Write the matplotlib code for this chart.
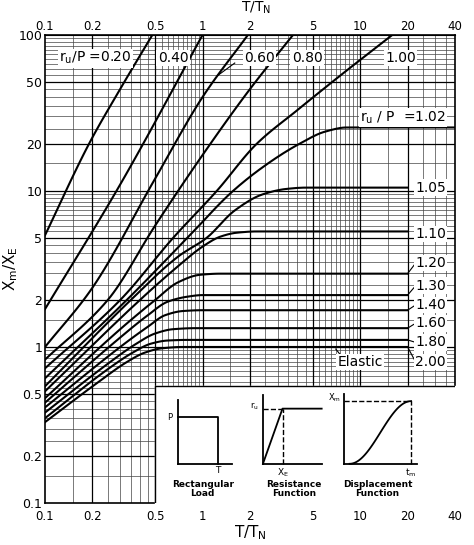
import numpy as np
import matplotlib
matplotlib.use("Agg")
import matplotlib.pyplot as plt
from matplotlib.ticker import FixedLocator, NullLocator

plt.rcParams['font.family'] = ['DejaVu Sans']

# ---- data (T/TN, Xm/XE) ----
r_labels = ["0.20", "0.40", "0.60", "0.80", "1.00", "1.02", "1.05", "1.10",
            "1.20", "1.30", "1.40", "1.60", "1.80", "2.00"]
x_020 = [0.1, 0.19, 0.3, 0.48]
y_020 = [5.2, 20, 45, 100]
x_040 = [0.1, 0.3, 1.0]
y_040 = [1.75, 11, 100]
x_060 = [0.1, 0.2, 0.5, 1.0, 1.94]
y_060 = [1.0, 2.4, 12, 40, 100]
x_080 = [0.1, 0.25, 0.5, 1.0, 2.0, 3.75]
y_080 = [0.83, 2.0, 6.0, 17, 45, 100]
x_100 = [0.1, 0.3, 0.65, 1.23, 2.2, 4.0, 7.5, 16]
y_100 = [0.73, 2.0, 5.0, 10, 20, 33, 55, 100]
x_102 = [0.1, 0.33, 0.8, 1.56, 2.6, 4.1, 6.0, 8.2, 12, 40]
y_102 = [0.63, 2.0, 5.0, 10, 15, 20, 24, 25.5, 25.5, 25.5]
x_105 = [0.1, 0.35, 0.7, 1.06, 1.6, 2.4, 3.4, 4.5, 7, 20]
y_105 = [0.56, 2.0, 3.8, 5.0, 7.5, 9.5, 10.3, 10.5, 10.5, 10.5]
x_110 = [0.1, 0.4, 0.7, 1.0, 1.3, 1.65, 2.2, 4, 20]
y_110 = [0.52, 2.0, 3.3, 4.4, 5.1, 5.4, 5.5, 5.5, 5.5]
x_120 = [0.1, 0.3, 0.5, 0.7, 0.96, 1.3, 2.5, 20]
y_120 = [0.47, 1.3, 2.0, 2.6, 2.9, 2.95, 2.95, 2.95]
x_130 = [0.1, 0.3, 0.45, 0.6, 0.8, 1.0, 2.0, 20]
y_130 = [0.44, 1.15, 1.6, 1.95, 2.1, 2.15, 2.15, 2.15]
x_140 = [0.1, 0.3, 0.45, 0.58, 0.75, 1.0, 2.0, 20]
y_140 = [0.41, 1.0, 1.35, 1.6, 1.7, 1.72, 1.72, 1.72]
x_160 = [0.1, 0.25, 0.38, 0.5, 0.65, 0.9, 2.0, 20]
y_160 = [0.38, 0.78, 1.05, 1.22, 1.3, 1.32, 1.32, 1.32]
x_180 = [0.1, 0.25, 0.36, 0.47, 0.6, 0.8, 2.0, 20]
y_180 = [0.35, 0.72, 0.92, 1.05, 1.1, 1.11, 1.11, 1.11]
x_200 = [0.1, 0.22, 0.33, 0.43, 0.55, 0.75, 2.0, 20]
y_200 = [0.33, 0.6, 0.8, 0.92, 0.98, 1.0, 1.0, 1.0]

curves = [(x_020, y_020), (x_040, y_040), (x_060, y_060), (x_080, y_080),
          (x_100, y_100), (x_102, y_102), (x_105, y_105), (x_110, y_110),
          (x_120, y_120), (x_130, y_130), (x_140, y_140), (x_160, y_160),
          (x_180, y_180), (x_200, y_200)]

xticks = [0.1, 0.2, 0.5, 1, 2, 5, 10, 20, 40]
xticklabels = ["0.1", "0.2", "0.5", "1", "2", "5", "10", "20", "40"]
yticks = [0.1, 0.2, 0.5, 1, 2, 5, 10, 20, 50, 100]
yticklabels = ["0.1", "0.2", "0.5", "1", "2", "5", "10", "20", "50", "100"]


def smooth(xs, ys, n=16):
    """Monotone cubic (Fritsch-Carlson) through the read points, in log-log space."""
    lx, ly = np.log10(xs), np.log10(ys)
    h = np.diff(lx); d = np.diff(ly) / h
    m = np.zeros_like(lx)
    m[0], m[-1] = d[0], d[-1]
    for i in range(1, len(lx) - 1):
        if d[i - 1] * d[i] <= 0:
            m[i] = 0
        else:
            m[i] = 2 / (1 / d[i - 1] + 1 / d[i])
    ox, oy = [], []
    for i in range(len(h)):
        t = np.linspace(0, 1, n, endpoint=False)
        h00 = 2*t**3 - 3*t**2 + 1; h10 = t**3 - 2*t**2 + t
        h01 = -2*t**3 + 3*t**2; h11 = t**3 - t**2
        ox.extend(lx[i] + t * h[i])
        oy.extend(h00*ly[i] + h10*h[i]*m[i] + h01*ly[i+1] + h11*h[i]*m[i+1])
    ox.append(lx[-1]); oy.append(ly[-1])
    return 10 ** np.array(ox), 10 ** np.array(oy)


fig = plt.figure(figsize=(4.74, 5.45), dpi=100)
ax = fig.add_axes([0.095, 0.077, 0.865, 0.859])
ax.set_xscale('log'); ax.set_yscale('log')
ax.set_xlim(0.1, 40); ax.set_ylim(0.1, 100)

def fine(lo_exp, hi_exp):
    v = []
    for e in range(lo_exp, hi_exp):
        for s in np.arange(1, 10, 0.5):
            v.append(s * 10.0 ** e)
    return v
for xv in fine(-1, 2):
    if 0.1 < xv < 40:
        ax.axvline(xv, color='#444', lw=0.5, zorder=0)
for yv in fine(-1, 2):
    if 0.1 < yv < 100:
        ax.axhline(yv, color='#444', lw=0.5, zorder=0)
for xv in [0.2, 0.5, 1, 2, 5, 10, 20]:
    ax.axvline(xv, color='black', lw=0.9, zorder=0)
for yv in [0.2, 0.5, 1, 2, 5, 10, 20, 50]:
    ax.axhline(yv, color='black', lw=0.9, zorder=0)

for (xs, ys) in curves:
    sx, sy = smooth(xs, ys)
    ax.plot(sx, sy, color='black', lw=1.5, zorder=3)

ax.fill_between([0.5, 40], 0.1, 0.56, color='white', zorder=4)
ax.plot([0.5, 0.5, 40], [0.1, 0.56, 0.56], color='black', lw=1, zorder=5)

box = dict(facecolor='white', edgecolor='none', pad=1.0)
tk = dict(fontsize=10, ha='center', va='center', zorder=6, bbox=box)
ax.text(0.21, 71, r"$\mathregular{r_u}$/P =0.20", **tk)
ax.text(0.65, 71, "0.40", **tk)
ax.text(2.3, 71, "0.60", **tk)
ax.text(4.6, 71, "0.80", **tk)
ax.text(18, 71, "1.00", **tk)
ax.text(18.7, 29.4, r"$\mathregular{r_u}$ / P  =1.02", **tk)
rx = 28
for lab, yl in [("1.05", 10.5), ("1.10", 5.3), ("1.20", 3.45), ("1.30", 2.47),
                ("1.40", 1.86), ("1.60", 1.42), ("1.80", 1.07), ("2.00", 0.80)]:
    ax.text(rx, yl, lab, **tk)
ax.text(10, 0.80, "Elastic", **tk)
ax.plot([1.25, 1.6], [55, 66], color='black', lw=0.8, zorder=5)
for yc, yl in [(2.95, 3.45), (2.15, 2.47), (1.72, 1.86), (1.32, 1.42), (1.11, 1.07), (1.0, 0.80)]:
    ax.plot([20, 22.5], [yc, yl], color='black', lw=0.8, zorder=5)
ax.plot([7, 8], [0.97, 0.82], color='black', lw=0.8, zorder=5)

ax.xaxis.set_major_locator(FixedLocator(xticks))
ax.set_xticklabels(xticklabels)
ax.yaxis.set_major_locator(FixedLocator(yticks))
ax.set_yticklabels(yticklabels)
ax.xaxis.set_minor_locator(NullLocator()); ax.yaxis.set_minor_locator(NullLocator())
ax.tick_params(axis='y', labelsize=9, length=0, pad=2)
ax.tick_params(axis='x', labelsize=8.5, length=0, pad=5)
ax.set_xlabel(r"T/T$_\mathregular{N}$", fontsize=11, labelpad=0)
ax.set_ylabel(r"X$_\mathregular{m}$/X$_\mathregular{E}$", fontsize=11)
ax.yaxis.set_label_coords(-0.062, 0.5)

sec = ax.secondary_xaxis('top')
sec.xaxis.set_major_locator(FixedLocator(xticks))
sec.set_xticklabels(xticklabels)
sec.xaxis.set_minor_locator(NullLocator())
sec.tick_params(labelsize=8.5, length=0, pad=1)
fig.text(0.54, 1.0, r"T/T$_\mathregular{N}$", fontsize=10, ha='center', va='top')
for s in ax.spines.values():
    s.set_linewidth(1.2)

ins = fig.add_axes([0.36, 0.08, 0.59, 0.23])
ins.set_xlim(0, 1); ins.set_ylim(0, 1); ins.axis('off')
k = dict(color='black', lw=1.3)
lf = dict(fontsize=6.5, ha='center', va='center', weight='bold', linespacing=1.0)
ins.plot([0.025, 0.22], [0.30, 0.30], **k)
ins.plot([0.025, 0.025], [0.30, 0.81], **k)
ins.plot([0.025, 0.17, 0.17], [0.67, 0.67, 0.30], **k)
ins.text(0.005, 0.67, "P", fontsize=6, ha='right', va='center')
ins.text(0.17, 0.28, "T", fontsize=6.5, ha='center', va='top')
ins.text(0.115, 0.10, "Rectangular\nLoad", **lf)
ins.plot([0.33, 0.54], [0.30, 0.30], **k)
ins.plot([0.33, 0.33], [0.30, 0.85], **k)
ins.plot([0.33, 0.40, 0.54], [0.30, 0.74, 0.74], **k)
ins.plot([0.33, 0.40], [0.74, 0.74], color='black', lw=1, ls='--')
ins.plot([0.40, 0.40], [0.30, 0.74], color='black', lw=1, ls='--')
ins.text(0.315, 0.76, r"r$_\mathregular{u}$", fontsize=6, ha='right', va='center')
ins.text(0.40, 0.28, r"X$_\mathregular{E}$", fontsize=6.5, ha='center', va='top')
ins.text(0.44, 0.10, "Resistance\nFunction", **lf)
ins.plot([0.62, 0.88], [0.30, 0.30], **k)
ins.plot([0.62, 0.62], [0.30, 0.86], **k)
t = np.linspace(0, 1, 50)
ins.plot(0.64 + 0.22 * t, 0.30 + 0.5 * (1 - np.cos(np.pi * t)) / 2, **k)
ins.plot([0.62, 0.86], [0.80, 0.80], color='black', lw=1, ls='--')
ins.plot([0.86, 0.86], [0.30, 0.80], color='black', lw=1, ls='--')
ins.text(0.61, 0.83, r"X$_\mathregular{m}$", fontsize=6, ha='right', va='center')
ins.text(0.86, 0.28, r"t$_\mathregular{m}$", fontsize=6.5, ha='center', va='top')
ins.text(0.74, 0.10, "Displacement\nFunction", **lf)

fig.savefig("out.png", dpi=100)
